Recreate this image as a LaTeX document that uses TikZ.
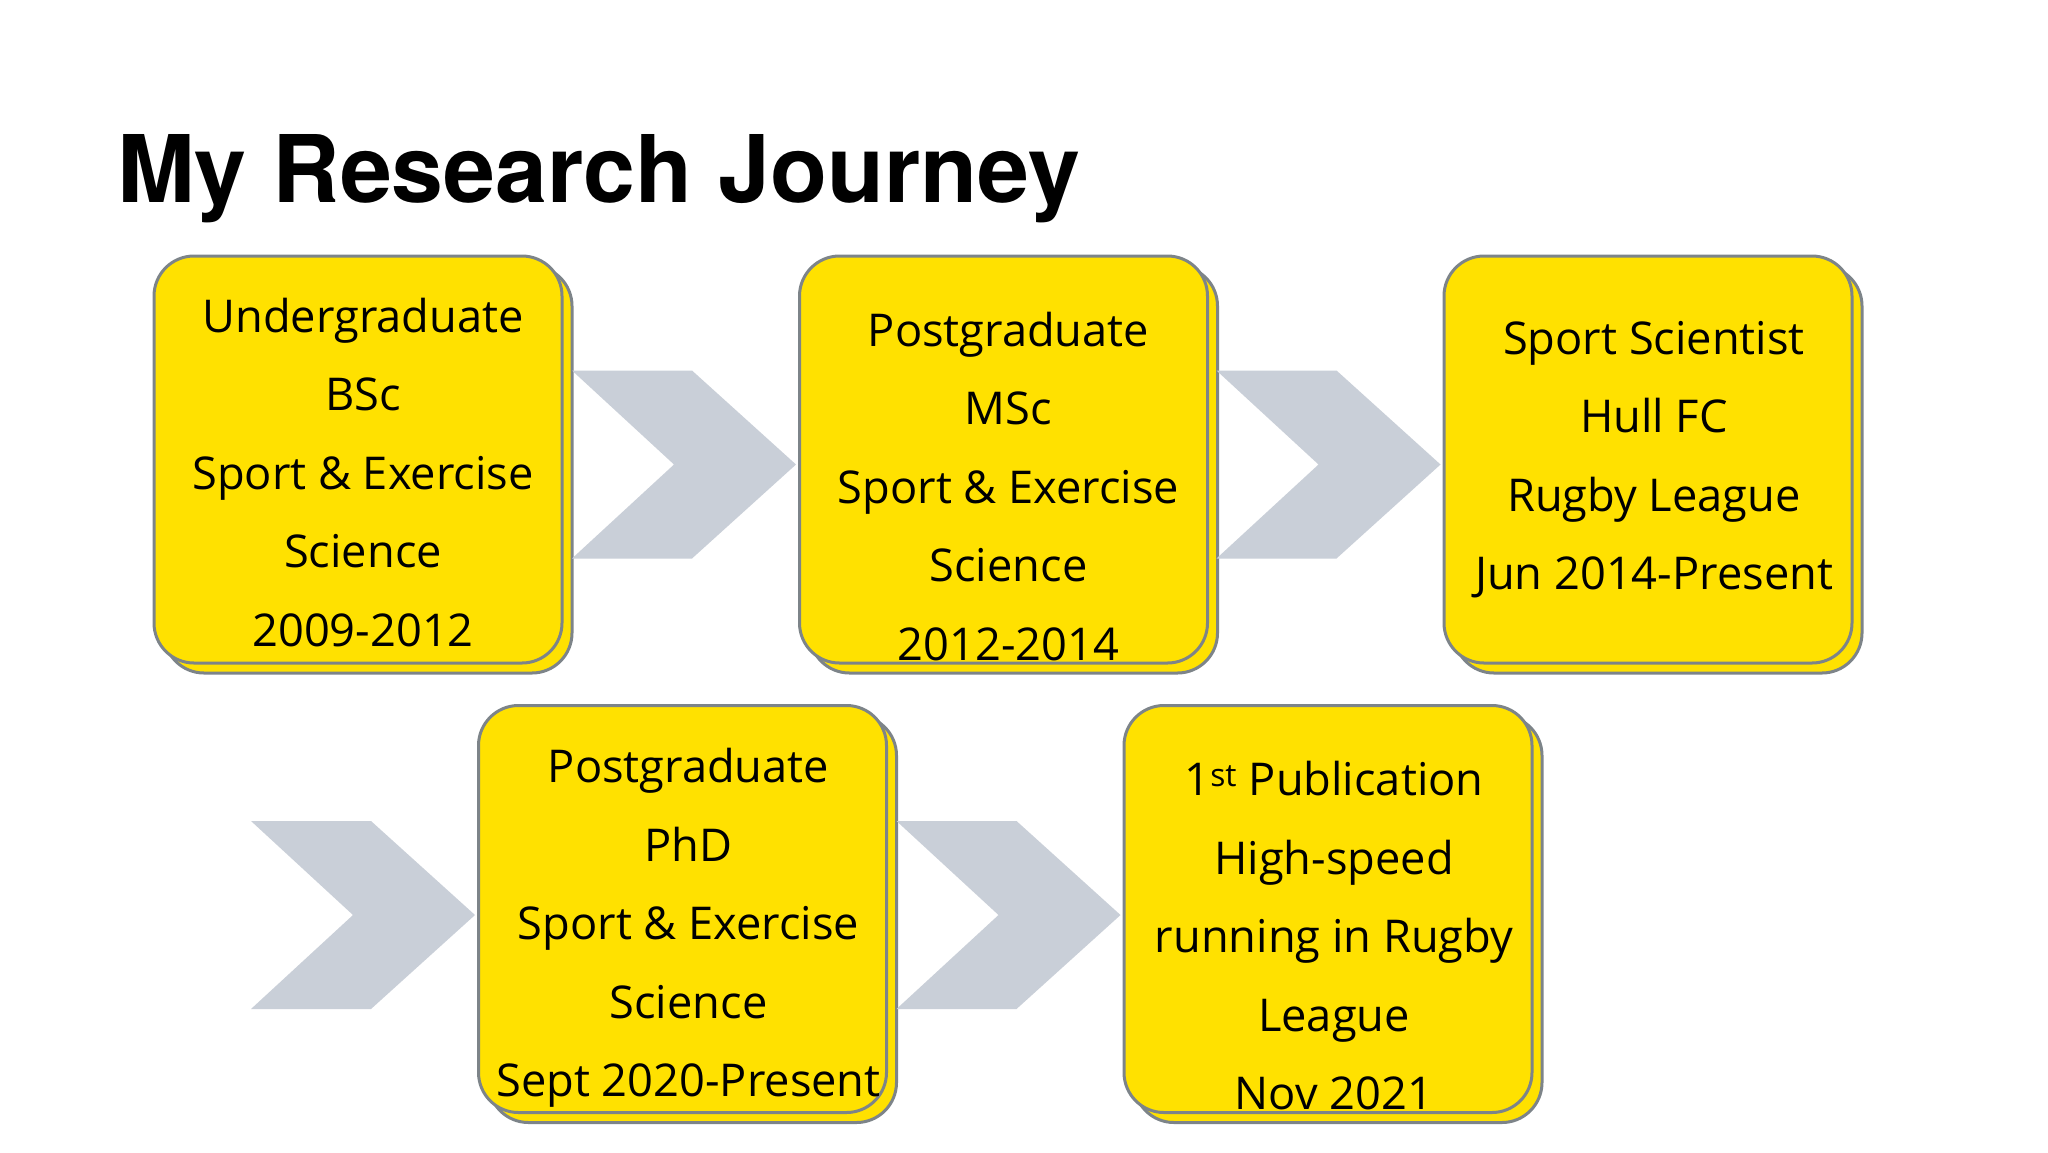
\documentclass[tikz,border=0pt]{standalone}
\usepackage{fontspec}
\setmainfont{Open Sans}
\newfontfamily\titlefont{TeX Gyre Heros}
\usetikzlibrary{shadows}
\definecolor{boxyellow}{HTML}{FFE100}
\definecolor{boxedge}{HTML}{7D8489}
\definecolor{chevgray}{HTML}{C9CFD8}

\begin{document}
\begin{tikzpicture}[x=1pt,y=-1pt,
  stage/.style={rectangle,rounded corners=40pt,draw=boxedge,line width=3pt,fill=boxyellow,
    minimum width=408pt,minimum height=407pt,inner sep=0pt,
    copy shadow={shadow xshift=10pt,shadow yshift=-10pt}},
  words/.style={align=center,inner sep=0pt,font=\fontsize{45.2}{78.5}\selectfont},
  chev/.style={fill=chevgray}]
\fill[white] (0,0) rectangle (2048,1152);
\useasboundingbox (0,0) rectangle (2048,1152);

\node[anchor=base west,inner sep=0pt,font=\titlefont\bfseries\fontsize{93.3}{95}\selectfont] (title) at (117,202) {My Research Journey};

% boxes
\node[stage] (b1) at (358,459.5) {};
\node[stage] (b2) at (1003.5,459.5) {};
\node[stage] (b3) at (1648,459.5) {};
\node[stage] (b4) at (682.5,909) {};
\node[stage] (b5) at (1328,909) {};

% chevrons
\fill[chev] ([xshift=-2pt,yshift=-5pt]b2.west) -- ++(-104,-94) -- ++(-120,0) -- ++(102,94) -- ++(-102,94) -- ++(120,0) -- cycle;
\fill[chev] ([xshift=-2pt,yshift=-5pt]b3.west) -- ++(-104,-94) -- ++(-120,0) -- ++(102,94) -- ++(-102,94) -- ++(120,0) -- cycle;
\fill[chev] ([xshift=-2pt,yshift=-6pt]b4.west) -- ++(-104,-94) -- ++(-120,0) -- ++(102,94) -- ++(-102,94) -- ++(120,0) -- cycle;
\fill[chev] ([xshift=-2pt,yshift=-6pt]b5.west) -- ++(-104,-94) -- ++(-120,0) -- ++(102,94) -- ++(-102,94) -- ++(120,0) -- cycle;

% texts
\node[words] (t1) at ([xshift=5pt,yshift=-13pt]b1.center) {Undergraduate\\BSc\\Sport \& Exercise\\Science\\2009-2012};
\node[words] (t2) at ([xshift=5pt,yshift=-27pt]b2.center) {Postgraduate\\MSc\\Sport \& Exercise\\Science\\2012-2014};
\node[words] (t3) at ([xshift=6pt,yshift=0pt]b3.center) {Sport Scientist\\Hull FC\\Rugby League\\Jun 2014-Present};
\node[words] (t4) at ([xshift=6pt,yshift=-19pt]b4.center) {Postgraduate\\PhD\\Sport \& Exercise\\Science\\Sept 2020-Present};
\node[words] (t5) at ([xshift=6pt,yshift=-27pt]b5.center) {1\textsuperscript{st} Publication\\High-speed\\running in Rugby\\League\\Nov 2021};
\end{tikzpicture}
\end{document}
